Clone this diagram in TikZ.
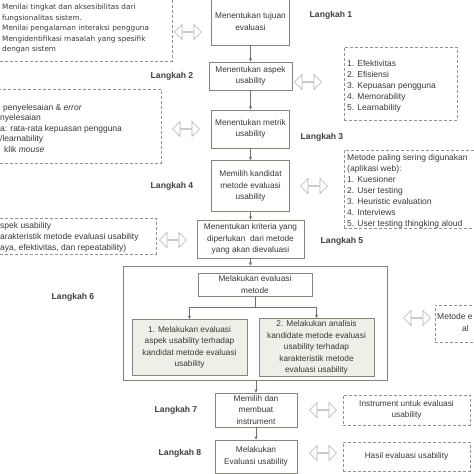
\documentclass[tikz,border=0pt]{standalone}
\usepackage{fontspec}
\setmainfont{Liberation Sans}
\newfontfamily\djv{DejaVu Sans}
\usetikzlibrary{arrows.meta,shapes.arrows}
\definecolor{bord}{HTML}{85857A}
\definecolor{subfill}{HTML}{EEF0E7}
\definecolor{dgray}{HTML}{939393}
\definecolor{agray}{HTML}{B0B0B0}
\definecolor{lgray}{HTML}{707070}
\definecolor{txt}{HTML}{383838}
\definecolor{labc}{HTML}{404040}
\tikzset{
  box/.style={draw=bord, line width=0.75pt, fill=white, text=txt, align=center,
    font=\fontsize{8.3}{11.5}\selectfont, inner sep=0pt},
  subbox/.style={box, fill=subfill},
  dbox/.style={draw=dgray, dash pattern=on 3pt off 2pt, line width=0.6pt},
  ttxt/.style={text=txt, font=\fontsize{8.5}{11}\selectfont, inner sep=0pt, anchor=base west},
  vtxt/.style={text=txt, font=\djv\fontsize{7.3}{10}\selectfont, inner sep=0pt, anchor=base west},
  lab/.style={text=labc, font=\fontsize{8.6}{10}\selectfont\bfseries, inner sep=0pt},
  darr/.style={double arrow, draw=agray, fill=white, line width=0.6pt,
    minimum width=15pt, minimum height=27pt, double arrow head extend=3pt, inner sep=0pt},
  arr/.style={draw=lgray, line width=0.6pt, -{Stealth[length=3.5pt,width=3.2pt]}},
  conn/.style={draw=lgray, line width=0.6pt}
}
\begin{document}
\begin{tikzpicture}[x=1pt,y=-1pt]
\useasboundingbox (0,0) rectangle (474,474);

% ---------- main column ----------
\node[box, minimum width=78pt, minimum height=47pt] (b1) at (250.5,21.5) {Menentukan tujuan\\evaluasi};
\node[box, minimum width=83pt, minimum height=28pt] (b2) at (250.5,76) {Menentukan aspek\\usability};
\node[box, minimum width=78pt, minimum height=38pt] (b3) at (250.5,129) {Menentukan metrik\\usability};
\node[box, minimum width=78pt, minimum height=51pt] (b4) at (250.5,186) {Memilih kandidat\\metode evaluasi\\usability};
\node[box, minimum width=107pt, minimum height=38pt] (b5) at (250.5,239) {Menentukan kriteria yang\\diperlukan~ dari metode\\yang akan dievaluasi};

\node[box, minimum width=264pt, minimum height=114pt] (cont) at (255,323) {};
\node[box, minimum width=114pt, minimum height=23pt] (inner) at (255,284.5) {Melakukan evaluasi\\metode};
\node[subbox, minimum width=115pt, minimum height=56pt] (sub1) at (189.5,347.5) {1. Melakukan evaluasi\\aspek usability terhadap\\kandidat metode evaluasi\\usability};
\node[subbox, minimum width=115pt, minimum height=58pt] (sub2) at (316.5,347.5) {2. Melakukan analisis\\kandidate metode evaluasi\\usability terhadap\\karakteristik metode\\evaluasi usability};

\node[box, minimum width=82pt, minimum height=34pt] (b7) at (256,410) {Memilih dan\\membuat\\instrument};
\node[box, minimum width=82pt, minimum height=33pt] (b8) at (256,456.5) {Melakukan\\Evaluasi usability};

% ---------- connectors ----------
\draw[arr] (b1.south) -- (b2.north);
\draw[arr] (b2.south) -- (b3.north);
\draw[arr] (b3.south) -- (b4.north);
\draw[arr] (b4.south) -- (b5.north);
\draw[arr] (b5.south) -- (b5.south |- cont.north);
\coordinate (jn) at ([yshift=-11pt]inner.south);
\draw[conn] (inner.south) -- (jn);
\draw[arr] (jn) -| (sub1.north);
\draw[arr] (jn) -| (sub2.north);
\draw[arr] (cont.south -| b7.north) -- (b7.north);
\draw[arr] (b7.south) -- (b8.north);

% ---------- step labels ----------
\node[lab] (L1) at (331,15) {Langkah 1};
\node[lab] (L2) at (172,76) {Langkah 2};
\node[lab] (L3) at (322,137) {Langkah 3};
\node[lab] (L4) at (172,186) {Langkah 4};
\node[lab] (L5) at (342,241) {Langkah 5};
\node[lab] (L6) at (73,297) {Langkah 6};
\node[lab] (L7) at (176,410) {Langkah 7};
\node[lab] (L8) at (180,453) {Langkah 8};

% ---------- double arrows ----------
\node[darr] (a1) at (188,32) {};
\node[darr] (a2) at (308,82) {};
\node[darr] (a3) at (186,129) {};
\node[darr] (a4) at (314,186) {};
\node[darr] (a5) at (173,240) {};
\node[darr] (a6) at (417,318) {};
\node[darr] (a7) at (323,410) {};
\node[darr] (a8) at (323,453) {};

% ---------- dashed boxes ----------
\node[dbox, minimum width=182pt, minimum height=70pt] (l1) at (81,26) {};
\foreach \t [count=\i] in {{Menilai tingkat dan aksesibilitas dari},{fungsionalitas sistem.},{Menilai pengalaman interaksi pengguna},{Mengidentifikasi masalah yang spesifik},{dengan sistem}}
  \node[vtxt] (l1t\i) at (2,{9.8+10.4*(\i-1)}) {\t};

\node[dbox, minimum width=171pt, minimum height=74pt] (l3) at (75.5,126) {};
\node[ttxt] (l3t1) at (3,110) {penyelesaian \& \textit{error}};
\node[ttxt] (l3t2) at (0,120.5) {nyelesaian};
\node[ttxt] (l3t3) at (0,131) {a: rata-rata kepuasan pengguna};
\node[ttxt] (l3t4) at (0,141.5) {/learnability};
\node[ttxt] (l3t5) at (4,152) {klik \textit{mouse}};

\node[dbox, minimum width=166pt, minimum height=36pt] (l5) at (73,236) {};
\foreach \t [count=\i] in {{spek usability},{arakteristik metode evaluasi usability},{aya, efektivitas, dan repeatability)}}
  \node[ttxt] (l5t\i) at (0,{228+11*(\i-1)}) {\t};

\node[dbox, minimum width=113pt, minimum height=73pt] (r2) at (400.5,83.5) {};
\foreach \t [count=\i] in {{1. Efektivitas},{2. Efisiensi},{3. Kepuasan pengguna},{4. Memorability},{5. Learnability}}
  \node[ttxt] (r2t\i) at (347,{66+11*(\i-1)}) {\t};

\node[dbox, minimum width=146pt, minimum height=78pt] (r4) at (417,189) {};
\foreach \t [count=\i] in {{Metode paling sering digunakan},{(aplikasi web):},{1. Kuesioner},{2. User testing},{3. Heuristic evaluation},{4. Interviews},{5. User testing thingking aloud}}
  \node[ttxt] (r4t\i) at (347,{160+11.1*(\i-1)}) {\t};

\node[dbox, minimum width=55pt, minimum height=37pt] (r6) at (462.5,323.5) {};
\node[ttxt] (r6t1) at (437,319) {Metode e};
\node[ttxt] (r6t2) at (462,331) {al};

\node[dbox, minimum width=127pt, minimum height=30pt, text=txt, align=center,
  font=\fontsize{8.3}{11.3}\selectfont] (r7) at (406.5,410) {Instrument untuk evaluasi\\usability};
\node[dbox, minimum width=127pt, minimum height=29pt, text=txt, align=center,
  font=\fontsize{8.3}{11.3}\selectfont] (r8) at (406.5,456.5) {Hasil evaluasi usability};
\end{tikzpicture}
\end{document}
